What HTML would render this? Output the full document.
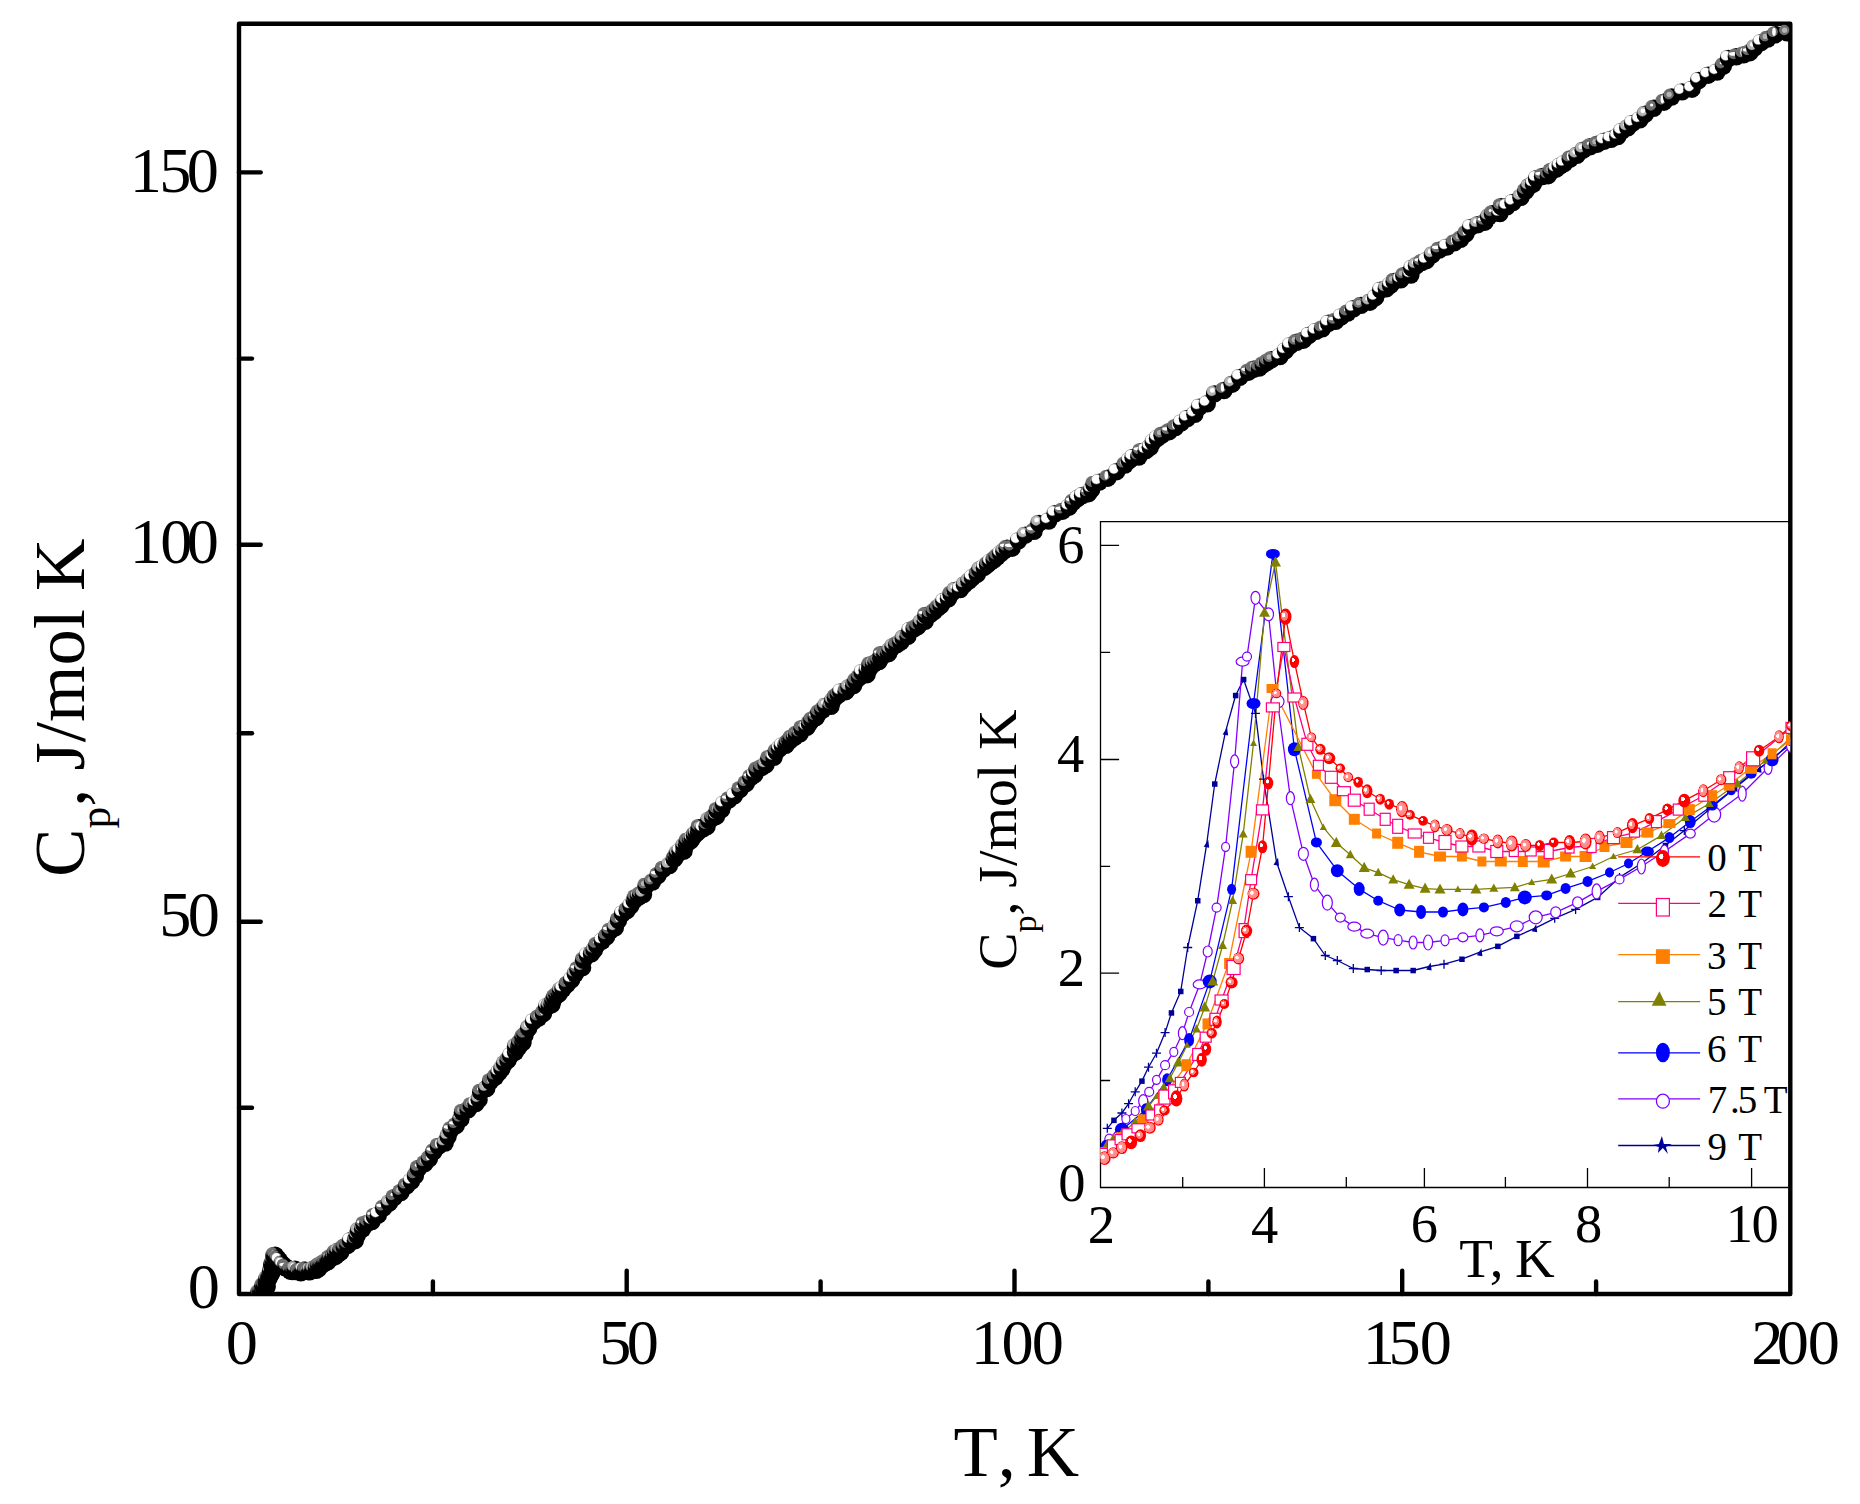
<!DOCTYPE html>
<html><head><meta charset="utf-8"><title>Cp(T)</title>
<style>
html,body{margin:0;padding:0;background:#fff;}
svg{display:block;font-family:"Liberation Serif",serif;}
.tk{stroke:#000;stroke-width:4.4;stroke-linecap:round;}
</style></head><body>
<svg width="1860" height="1504" viewBox="0 0 1860 1504">
<rect width="1860" height="1504" fill="#fff"/>
<rect x="239.00" y="23.70" width="1551.30" height="1270.30" fill="none" stroke="#000" stroke-width="4.40" stroke-linejoin="round"/>
<line x1="239.00" y1="172.35" x2="260.70" y2="172.35" class="tk"/>
<line x1="239.00" y1="544.70" x2="260.70" y2="544.70" class="tk"/>
<line x1="239.00" y1="921.80" x2="260.70" y2="921.80" class="tk"/>
<line x1="239.00" y1="358.60" x2="252.00" y2="358.60" class="tk"/>
<line x1="239.00" y1="733.25" x2="252.00" y2="733.25" class="tk"/>
<line x1="239.00" y1="1107.80" x2="252.00" y2="1107.80" class="tk"/>
<line x1="626.70" y1="1294.00" x2="626.70" y2="1270.80" class="tk"/>
<line x1="1014.50" y1="1294.00" x2="1014.50" y2="1270.80" class="tk"/>
<line x1="1402.20" y1="1294.00" x2="1402.20" y2="1270.80" class="tk"/>
<line x1="432.90" y1="1294.00" x2="432.90" y2="1281.50" class="tk"/>
<line x1="820.60" y1="1294.00" x2="820.60" y2="1281.50" class="tk"/>
<line x1="1208.40" y1="1294.00" x2="1208.40" y2="1281.50" class="tk"/>
<line x1="1596.10" y1="1294.00" x2="1596.10" y2="1281.50" class="tk"/>
<text x="129.63 159.36 186.68" y="192.10" font-size="64.30" fill="#000">150</text>
<text x="129.63 160.28 186.68" y="562.50" font-size="64.30" fill="#000">100</text>
<text x="159.36 187.68" y="936.20" font-size="64.30" fill="#000">50</text>
<text x="187.68" y="1308.10" font-size="64.30" fill="#000">0</text>
<text x="225.68" y="1364.20" font-size="64.30" fill="#000">0</text>
<text x="599.26 626.67" y="1364.20" font-size="64.30" fill="#000">50</text>
<text x="970.63 1001.47 1031.67" y="1364.20" font-size="64.30" fill="#000">100</text>
<text x="1362.63 1388.41 1419.67" y="1364.20" font-size="64.30" fill="#000">150</text>
<text x="1751.29 1776.72 1807.83" y="1364.20" font-size="64.30" fill="#000">200</text>
<text x="953.60 997.64 1016.00 1026.70" y="1476.10" font-size="72.50" fill="#000">T, K</text>
<text transform="translate(83.70 876.90) rotate(-90)" font-size="72.60">C<tspan font-size="43.40" dy="26.70">p</tspan><tspan dy="-26.70">, J/mol K</tspan></text>
<defs><clipPath id="cm"><rect x="239.00" y="23.70" width="1551.30" height="1270.30"/></clipPath>
<g id="ma"><circle cx="0.6" cy="0.6" r="8.7" fill="#000"/><circle cx="-2.3" cy="-2.3" r="4.9" stroke="#8a8a8a" stroke-width="0.5" fill="#fff"/></g>
<g id="mb"><circle cx="0.6" cy="0.6" r="8.7" fill="#000"/><circle cx="-2.3" cy="-2.3" r="4.9" stroke="#8a8a8a" stroke-width="0.5" fill="#b4b4b4"/><circle cx="-1.7" cy="-2.9" r="2.4" fill="#fff"/></g>
<g id="mc"><circle cx="0.6" cy="0.6" r="8.7" fill="#000"/><circle cx="-2.3" cy="-2.3" r="4.9" stroke="#8a8a8a" stroke-width="0.5" fill="#6e6e6e"/><ellipse cx="-2.3" cy="-2.3" rx="4.3" ry="1.8" fill="#fff"/></g>
<g id="md"><circle cx="0.6" cy="0.6" r="8.7" fill="#000"/><circle cx="-2.3" cy="-2.3" r="4.9" stroke="#8a8a8a" stroke-width="0.5" fill="#6e6e6e"/><circle cx="-1.9" cy="-2.1" r="2.6" fill="#b4b4b4"/></g>
<g id="me"><circle cx="0.6" cy="0.6" r="8.7" fill="#000"/><circle cx="-2.3" cy="-2.3" r="4.9" stroke="#8a8a8a" stroke-width="0.5" fill="#6e6e6e"/><ellipse cx="-0.9" cy="-2.3" rx="1.8" ry="4.1" fill="#fff"/></g>
<g id="mf"><circle cx="0.6" cy="0.6" r="8.7" fill="#000"/><circle cx="-2.3" cy="-2.3" r="4.9" stroke="#8a8a8a" stroke-width="0.5" fill="#6e6e6e"/><circle cx="-1.5" cy="-2.7" r="1.6" fill="#fff"/></g>
</defs>
<g clip-path="url(#cm)">
<use href="#me" x="258.0" y="1292.6"/>
<use href="#mb" x="259.6" y="1292.2"/>
<use href="#mc" x="260.4" y="1290.6"/>
<use href="#md" x="261.6" y="1289.7"/>
<use href="#mf" x="263.8" y="1290.2"/>
<use href="#md" x="262.2" y="1285.5"/>
<use href="#mc" x="263.7" y="1284.9"/>
<use href="#mb" x="266.6" y="1286.2"/>
<use href="#md" x="265.4" y="1282.2"/>
<use href="#ma" x="266.3" y="1280.9"/>
<use href="#mb" x="266.3" y="1278.3"/>
<use href="#mb" x="268.2" y="1278.3"/>
<use href="#mc" x="268.4" y="1276.5"/>
<use href="#ma" x="269.0" y="1275.1"/>
<use href="#md" x="270.1" y="1274.4"/>
<use href="#ma" x="270.7" y="1273.1"/>
<use href="#ma" x="270.0" y="1270.1"/>
<use href="#mf" x="271.9" y="1270.4"/>
<use href="#mb" x="272.7" y="1269.4"/>
<use href="#mf" x="271.2" y="1265.3"/>
<use href="#me" x="271.4" y="1263.6"/>
<use href="#mb" x="272.8" y="1263.3"/>
<use href="#mb" x="272.6" y="1260.9"/>
<use href="#ma" x="274.4" y="1261.1"/>
<use href="#mf" x="274.4" y="1258.9"/>
<use href="#md" x="273.3" y="1255.2"/>
<use href="#mb" x="274.8" y="1255.0"/>
<use href="#mf" x="274.5" y="1254.6"/>
<use href="#ma" x="276.9" y="1257.7"/>
<use href="#mf" x="276.9" y="1257.6"/>
<use href="#mb" x="279.3" y="1260.7"/>
<use href="#ma" x="278.7" y="1259.9"/>
<use href="#md" x="281.3" y="1263.3"/>
<use href="#ma" x="282.0" y="1264.1"/>
<use href="#ma" x="282.3" y="1264.4"/>
<use href="#ma" x="284.5" y="1267.3"/>
<use href="#me" x="284.5" y="1266.1"/>
<use href="#mc" x="285.9" y="1266.8"/>
<use href="#mf" x="289.6" y="1270.5"/>
<use href="#mf" x="289.6" y="1269.4"/>
<use href="#me" x="291.9" y="1270.9"/>
<use href="#mc" x="293.2" y="1270.7"/>
<use href="#mb" x="294.8" y="1271.0"/>
<use href="#mb" x="294.5" y="1268.5"/>
<use href="#me" x="297.6" y="1270.8"/>
<use href="#me" x="300.2" y="1272.3"/>
<use href="#mc" x="300.8" y="1271.0"/>
<use href="#ma" x="302.0" y="1270.4"/>
<use href="#ma" x="303.0" y="1269.6"/>
<use href="#mf" x="304.7" y="1269.6"/>
<use href="#mc" x="307.4" y="1271.0"/>
<use href="#mf" x="309.1" y="1271.2"/>
<use href="#ma" x="310.0" y="1269.9"/>
<use href="#me" x="311.6" y="1269.4"/>
<use href="#mb" x="313.0" y="1268.7"/>
<use href="#me" x="315.8" y="1269.8"/>
<use href="#me" x="315.8" y="1267.3"/>
<use href="#me" x="318.3" y="1267.9"/>
<use href="#mf" x="318.3" y="1265.3"/>
<use href="#mb" x="320.1" y="1265.0"/>
<use href="#me" x="321.2" y="1263.8"/>
<use href="#ma" x="322.9" y="1263.5"/>
<use href="#mf" x="323.9" y="1262.0"/>
<use href="#me" x="325.5" y="1261.6"/>
<use href="#mb" x="327.3" y="1261.3"/>
<use href="#ma" x="327.8" y="1259.3"/>
<use href="#mf" x="328.8" y="1257.9"/>
<use href="#mc" x="330.2" y="1257.2"/>
<use href="#mf" x="332.1" y="1257.0"/>
<use href="#mc" x="332.8" y="1255.3"/>
<use href="#mb" x="335.1" y="1255.7"/>
<use href="#me" x="334.6" y="1252.4"/>
<use href="#ma" x="337.4" y="1253.4"/>
<use href="#mb" x="337.4" y="1250.7"/>
<use href="#me" x="340.1" y="1251.7"/>
<use href="#md" x="340.4" y="1249.5"/>
<use href="#md" x="343.7" y="1246.6"/>
<use href="#md" x="347.2" y="1244.8"/>
<use href="#ma" x="349.9" y="1240.2"/>
<use href="#md" x="354.7" y="1240.1"/>
<use href="#ma" x="356.6" y="1235.0"/>
<use href="#mb" x="357.8" y="1230.2"/>
<use href="#mc" x="362.0" y="1228.5"/>
<use href="#mc" x="363.4" y="1224.0"/>
<use href="#mf" x="367.3" y="1222.6"/>
<use href="#ma" x="371.4" y="1220.9"/>
<use href="#mc" x="373.8" y="1215.9"/>
<use href="#ma" x="377.7" y="1214.6"/>
<use href="#mc" x="383.0" y="1207.6"/>
<use href="#mb" x="388.7" y="1202.6"/>
<use href="#mf" x="393.6" y="1197.1"/>
<use href="#md" x="400.3" y="1191.9"/>
<use href="#md" x="405.8" y="1185.6"/>
<use href="#ma" x="410.8" y="1180.8"/>
<use href="#mf" x="414.8" y="1175.3"/>
<use href="#mf" x="417.9" y="1167.9"/>
<use href="#md" x="424.3" y="1163.1"/>
<use href="#me" x="428.8" y="1158.2"/>
<use href="#mc" x="433.2" y="1151.3"/>
<use href="#me" x="437.8" y="1145.8"/>
<use href="#mb" x="444.6" y="1142.5"/>
<use href="#mb" x="447.5" y="1136.0"/>
<use href="#mc" x="450.4" y="1129.2"/>
<use href="#mc" x="455.6" y="1125.1"/>
<use href="#mc" x="460.3" y="1118.6"/>
<use href="#md" x="461.8" y="1111.8"/>
<use href="#mf" x="467.5" y="1109.3"/>
<use href="#md" x="470.7" y="1105.1"/>
<use href="#ma" x="475.4" y="1103.0"/>
<use href="#mb" x="478.5" y="1099.1"/>
<use href="#mf" x="480.1" y="1091.6"/>
<use href="#mb" x="486.1" y="1088.1"/>
<use href="#me" x="489.8" y="1081.1"/>
<use href="#md" x="494.9" y="1076.5"/>
<use href="#ma" x="498.4" y="1072.1"/>
<use href="#mb" x="501.3" y="1068.3"/>
<use href="#mb" x="504.0" y="1063.1"/>
<use href="#md" x="507.4" y="1059.8"/>
<use href="#ma" x="510.1" y="1055.1"/>
<use href="#md" x="514.9" y="1051.5"/>
<use href="#mb" x="514.9" y="1046.1"/>
<use href="#md" x="518.3" y="1046.4"/>
<use href="#me" x="519.0" y="1042.6"/>
<use href="#mc" x="522.4" y="1041.9"/>
<use href="#mf" x="522.4" y="1036.6"/>
<use href="#mf" x="524.4" y="1034.7"/>
<use href="#mb" x="528.1" y="1027.7"/>
<use href="#ma" x="532.9" y="1021.1"/>
<use href="#md" x="538.0" y="1017.4"/>
<use href="#me" x="542.8" y="1013.1"/>
<use href="#ma" x="546.0" y="1006.0"/>
<use href="#mb" x="548.5" y="1005.2"/>
<use href="#me" x="551.4" y="1003.9"/>
<use href="#mf" x="552.4" y="1000.2"/>
<use href="#mf" x="554.0" y="996.8"/>
<use href="#me" x="556.4" y="994.7"/>
<use href="#ma" x="558.7" y="993.2"/>
<use href="#mb" x="559.8" y="990.0"/>
<use href="#ma" x="562.4" y="988.4"/>
<use href="#me" x="566.5" y="983.9"/>
<use href="#ma" x="571.1" y="979.2"/>
<use href="#mb" x="574.7" y="973.5"/>
<use href="#mc" x="577.3" y="969.0"/>
<use href="#mb" x="582.0" y="967.1"/>
<use href="#md" x="582.9" y="959.7"/>
<use href="#ma" x="586.8" y="955.0"/>
<use href="#mf" x="590.9" y="953.3"/>
<use href="#mb" x="593.7" y="949.6"/>
<use href="#mf" x="596.2" y="944.8"/>
<use href="#ma" x="601.7" y="940.4"/>
<use href="#me" x="606.0" y="936.2"/>
<use href="#mc" x="609.6" y="930.6"/>
<use href="#mb" x="614.7" y="927.3"/>
<use href="#me" x="617.9" y="919.9"/>
<use href="#ma" x="622.0" y="913.3"/>
<use href="#md" x="626.5" y="909.9"/>
<use href="#ma" x="630.3" y="905.3"/>
<use href="#mb" x="633.6" y="900.1"/>
<use href="#md" x="635.0" y="897.1"/>
<use href="#ma" x="638.2" y="896.4"/>
<use href="#md" x="639.9" y="894.1"/>
<use href="#mb" x="642.9" y="893.9"/>
<use href="#md" x="645.4" y="885.5"/>
<use href="#md" x="651.9" y="881.5"/>
<use href="#mc" x="657.4" y="874.9"/>
<use href="#mf" x="662.6" y="868.8"/>
<use href="#mb" x="668.9" y="865.0"/>
<use href="#mc" x="673.6" y="858.6"/>
<use href="#me" x="675.3" y="855.9"/>
<use href="#mb" x="676.9" y="852.7"/>
<use href="#ma" x="679.5" y="850.6"/>
<use href="#mf" x="683.4" y="850.6"/>
<use href="#mb" x="683.3" y="845.5"/>
<use href="#me" x="685.8" y="844.0"/>
<use href="#mf" x="686.7" y="840.5"/>
<use href="#mb" x="690.2" y="840.3"/>
<use href="#ma" x="691.7" y="837.9"/>
<use href="#mf" x="693.7" y="834.8"/>
<use href="#ma" x="696.0" y="833.1"/>
<use href="#mb" x="697.8" y="831.2"/>
<use href="#md" x="698.5" y="827.0"/>
<use href="#ma" x="702.6" y="828.2"/>
<use href="#md" x="706.5" y="825.9"/>
<use href="#mb" x="708.2" y="819.8"/>
<use href="#me" x="712.2" y="817.4"/>
<use href="#ma" x="715.9" y="815.8"/>
<use href="#md" x="716.5" y="810.0"/>
<use href="#md" x="721.2" y="809.0"/>
<use href="#ma" x="723.0" y="803.7"/>
<use href="#mc" x="728.5" y="799.3"/>
<use href="#ma" x="733.8" y="795.3"/>
<use href="#mf" x="739.4" y="789.1"/>
<use href="#md" x="745.6" y="783.1"/>
<use href="#mc" x="750.2" y="777.0"/>
<use href="#ma" x="754.1" y="774.3"/>
<use href="#me" x="756.4" y="769.4"/>
<use href="#me" x="761.2" y="767.1"/>
<use href="#mb" x="765.4" y="764.3"/>
<use href="#me" x="768.2" y="758.0"/>
<use href="#ma" x="773.4" y="756.8"/>
<use href="#md" x="775.6" y="751.3"/>
<use href="#ma" x="778.9" y="748.2"/>
<use href="#ma" x="781.7" y="745.3"/>
<use href="#mc" x="785.3" y="744.7"/>
<use href="#mf" x="786.9" y="742.2"/>
<use href="#md" x="789.4" y="740.3"/>
<use href="#mf" x="790.6" y="737.6"/>
<use href="#ma" x="794.1" y="736.7"/>
<use href="#md" x="795.7" y="733.8"/>
<use href="#mc" x="799.5" y="733.3"/>
<use href="#mf" x="801.3" y="728.1"/>
<use href="#ma" x="806.4" y="726.8"/>
<use href="#me" x="808.8" y="723.0"/>
<use href="#me" x="811.3" y="719.6"/>
<use href="#mc" x="815.6" y="717.1"/>
<use href="#md" x="818.2" y="712.4"/>
<use href="#me" x="822.1" y="709.5"/>
<use href="#mb" x="825.1" y="705.5"/>
<use href="#mc" x="830.4" y="705.7"/>
<use href="#mb" x="832.1" y="700.4"/>
<use href="#md" x="834.7" y="696.8"/>
<use href="#me" x="837.8" y="694.4"/>
<use href="#ma" x="840.3" y="691.3"/>
<use href="#mf" x="845.4" y="691.1"/>
<use href="#mb" x="848.4" y="687.2"/>
<use href="#md" x="853.0" y="684.9"/>
<use href="#mf" x="855.2" y="680.5"/>
<use href="#mf" x="858.9" y="676.9"/>
<use href="#ma" x="861.6" y="672.0"/>
<use href="#ma" x="866.5" y="674.1"/>
<use href="#ma" x="866.6" y="669.6"/>
<use href="#md" x="869.0" y="668.2"/>
<use href="#me" x="869.4" y="664.3"/>
<use href="#mb" x="873.0" y="663.8"/>
<use href="#mf" x="875.3" y="662.0"/>
<use href="#mb" x="878.4" y="660.9"/>
<use href="#ma" x="880.1" y="657.7"/>
<use href="#mc" x="880.6" y="654.0"/>
<use href="#md" x="884.2" y="653.6"/>
<use href="#mc" x="888.0" y="653.1"/>
<use href="#mb" x="889.5" y="649.7"/>
<use href="#mb" x="892.4" y="646.1"/>
<use href="#mf" x="896.1" y="644.2"/>
<use href="#mb" x="900.2" y="641.6"/>
<use href="#mb" x="902.6" y="637.7"/>
<use href="#mf" x="907.3" y="635.8"/>
<use href="#ma" x="909.3" y="629.9"/>
<use href="#me" x="913.5" y="628.3"/>
<use href="#me" x="917.3" y="626.1"/>
<use href="#mb" x="920.7" y="622.1"/>
<use href="#ma" x="924.6" y="620.7"/>
<use href="#mc" x="925.2" y="614.8"/>
<use href="#mf" x="929.7" y="614.1"/>
<use href="#mf" x="933.7" y="611.0"/>
<use href="#mf" x="937.2" y="607.6"/>
<use href="#mb" x="940.4" y="605.1"/>
<use href="#ma" x="943.2" y="600.7"/>
<use href="#ma" x="947.8" y="598.2"/>
<use href="#md" x="950.4" y="593.6"/>
<use href="#mb" x="954.5" y="589.8"/>
<use href="#ma" x="959.7" y="588.9"/>
<use href="#mb" x="963.8" y="584.3"/>
<use href="#mb" x="968.3" y="580.6"/>
<use href="#ma" x="971.8" y="577.2"/>
<use href="#md" x="976.6" y="573.8"/>
<use href="#mb" x="979.3" y="569.2"/>
<use href="#ma" x="983.7" y="566.8"/>
<use href="#me" x="986.9" y="564.2"/>
<use href="#ma" x="990.1" y="561.5"/>
<use href="#md" x="993.5" y="559.2"/>
<use href="#mf" x="996.6" y="556.4"/>
<use href="#ma" x="1000.1" y="553.3"/>
<use href="#mb" x="1003.3" y="550.6"/>
<use href="#mc" x="1006.5" y="547.6"/>
<use href="#mc" x="1011.5" y="547.6"/>
<use href="#ma" x="1017.9" y="540.3"/>
<use href="#mb" x="1024.8" y="534.5"/>
<use href="#mc" x="1033.5" y="530.7"/>
<use href="#mb" x="1038.3" y="522.8"/>
<use href="#ma" x="1048.1" y="520.4"/>
<use href="#ma" x="1054.6" y="513.2"/>
<use href="#mc" x="1062.0" y="510.6"/>
<use href="#ma" x="1068.5" y="506.6"/>
<use href="#mc" x="1072.5" y="501.7"/>
<use href="#ma" x="1077.1" y="497.9"/>
<use href="#ma" x="1081.9" y="494.9"/>
<use href="#mc" x="1088.0" y="493.1"/>
<use href="#ma" x="1091.1" y="489.0"/>
<use href="#me" x="1093.3" y="483.8"/>
<use href="#ma" x="1098.7" y="481.5"/>
<use href="#me" x="1107.2" y="477.6"/>
<use href="#ma" x="1116.1" y="471.1"/>
<use href="#md" x="1124.4" y="464.5"/>
<use href="#ma" x="1128.8" y="460.1"/>
<use href="#ma" x="1132.4" y="456.9"/>
<use href="#md" x="1138.2" y="456.4"/>
<use href="#mc" x="1140.2" y="451.1"/>
<use href="#ma" x="1145.5" y="450.1"/>
<use href="#ma" x="1149.7" y="446.7"/>
<use href="#ma" x="1152.6" y="441.5"/>
<use href="#ma" x="1156.9" y="437.8"/>
<use href="#md" x="1161.4" y="434.6"/>
<use href="#mc" x="1168.7" y="431.1"/>
<use href="#me" x="1174.9" y="427.0"/>
<use href="#ma" x="1180.8" y="422.3"/>
<use href="#ma" x="1186.8" y="417.9"/>
<use href="#ma" x="1194.3" y="413.7"/>
<use href="#ma" x="1198.8" y="406.5"/>
<use href="#ma" x="1206.7" y="403.2"/>
<use href="#mb" x="1214.0" y="393.3"/>
<use href="#me" x="1223.4" y="389.9"/>
<use href="#mb" x="1231.6" y="383.6"/>
<use href="#ma" x="1239.2" y="376.8"/>
<use href="#mc" x="1247.9" y="371.6"/>
<use href="#me" x="1252.9" y="368.7"/>
<use href="#md" x="1258.6" y="367.4"/>
<use href="#md" x="1262.5" y="364.3"/>
<use href="#md" x="1266.9" y="361.6"/>
<use href="#md" x="1271.1" y="359.0"/>
<use href="#ma" x="1279.4" y="355.9"/>
<use href="#ma" x="1284.9" y="350.3"/>
<use href="#ma" x="1289.9" y="345.0"/>
<use href="#md" x="1296.1" y="341.7"/>
<use href="#me" x="1302.8" y="339.6"/>
<use href="#ma" x="1308.4" y="334.7"/>
<use href="#ma" x="1315.5" y="330.8"/>
<use href="#me" x="1321.8" y="328.3"/>
<use href="#ma" x="1328.0" y="322.7"/>
<use href="#mc" x="1335.0" y="320.8"/>
<use href="#ma" x="1340.7" y="316.3"/>
<use href="#mf" x="1347.1" y="312.4"/>
<use href="#ma" x="1352.9" y="308.2"/>
<use href="#md" x="1360.4" y="304.8"/>
<use href="#mb" x="1369.3" y="301.6"/>
<use href="#ma" x="1375.0" y="297.1"/>
<use href="#ma" x="1380.1" y="289.6"/>
<use href="#mb" x="1385.7" y="288.2"/>
<use href="#ma" x="1389.9" y="284.7"/>
<use href="#md" x="1393.5" y="280.8"/>
<use href="#ma" x="1400.2" y="279.3"/>
<use href="#md" x="1403.2" y="275.2"/>
<use href="#ma" x="1410.3" y="274.4"/>
<use href="#ma" x="1411.3" y="267.7"/>
<use href="#mb" x="1415.8" y="265.2"/>
<use href="#mc" x="1421.1" y="262.0"/>
<use href="#ma" x="1425.9" y="260.1"/>
<use href="#mb" x="1431.8" y="254.3"/>
<use href="#mc" x="1438.6" y="249.5"/>
<use href="#ma" x="1446.2" y="246.5"/>
<use href="#me" x="1453.7" y="242.3"/>
<use href="#md" x="1460.0" y="238.7"/>
<use href="#me" x="1465.4" y="233.2"/>
<use href="#ma" x="1470.0" y="226.8"/>
<use href="#mb" x="1477.3" y="224.1"/>
<use href="#mc" x="1484.3" y="221.6"/>
<use href="#mb" x="1488.0" y="216.5"/>
<use href="#mf" x="1491.8" y="213.2"/>
<use href="#ma" x="1499.3" y="213.0"/>
<use href="#md" x="1500.5" y="206.1"/>
<use href="#ma" x="1506.4" y="206.2"/>
<use href="#ma" x="1512.4" y="201.9"/>
<use href="#mb" x="1520.3" y="196.8"/>
<use href="#mf" x="1525.0" y="190.8"/>
<use href="#mb" x="1528.4" y="186.2"/>
<use href="#ma" x="1532.8" y="183.4"/>
<use href="#ma" x="1535.9" y="178.2"/>
<use href="#mc" x="1541.9" y="175.9"/>
<use href="#me" x="1547.6" y="175.1"/>
<use href="#md" x="1550.6" y="170.9"/>
<use href="#ma" x="1555.7" y="168.5"/>
<use href="#ma" x="1559.6" y="165.4"/>
<use href="#ma" x="1563.8" y="163.0"/>
<use href="#me" x="1569.6" y="158.4"/>
<use href="#mb" x="1576.4" y="154.7"/>
<use href="#mb" x="1582.6" y="149.6"/>
<use href="#mf" x="1589.9" y="146.1"/>
<use href="#md" x="1596.8" y="143.6"/>
<use href="#ma" x="1603.7" y="140.6"/>
<use href="#ma" x="1610.5" y="138.7"/>
<use href="#ma" x="1617.2" y="135.9"/>
<use href="#ma" x="1621.2" y="130.8"/>
<use href="#mb" x="1627.2" y="127.3"/>
<use href="#ma" x="1631.9" y="122.8"/>
<use href="#ma" x="1639.3" y="119.3"/>
<use href="#mb" x="1644.6" y="113.7"/>
<use href="#mf" x="1653.1" y="107.7"/>
<use href="#me" x="1663.3" y="101.6"/>
<use href="#md" x="1671.0" y="96.4"/>
<use href="#ma" x="1681.5" y="91.3"/>
<use href="#ma" x="1691.4" y="88.6"/>
<use href="#ma" x="1698.1" y="79.9"/>
<use href="#ma" x="1707.6" y="74.6"/>
<use href="#ma" x="1716.4" y="71.4"/>
<use href="#mf" x="1722.8" y="65.4"/>
<use href="#ma" x="1727.9" y="57.9"/>
<use href="#mc" x="1735.7" y="56.2"/>
<use href="#me" x="1743.0" y="54.3"/>
<use href="#mc" x="1749.4" y="52.1"/>
<use href="#mb" x="1754.1" y="47.3"/>
<use href="#ma" x="1760.5" y="42.0"/>
<use href="#md" x="1767.1" y="38.5"/>
<use href="#me" x="1774.9" y="34.1"/>
<use href="#md" x="1786.5" y="32.3"/>
</g>
<g fill="none" stroke="#000" stroke-width="1.3">
<path d="M1790.30 521.60 H1100.50 V1187.50 H1790.30"/>
<path d="M1264.40 1187.50 V1168.10M1424.40 1187.50 V1168.10M1587.50 1187.50 V1168.10M1751.60 1187.50 V1168.10M1182.70 1187.50 V1176.90M1346.30 1187.50 V1176.90M1505.40 1187.50 V1176.90M1669.20 1187.50 V1176.90M1100.50 973.20 H1119.10M1100.50 759.50 H1119.10M1100.50 545.40 H1119.10M1100.50 1080.50 H1110.10M1100.50 866.30 H1110.10M1100.50 652.40 H1110.10"/>
</g>
<text x="1057.37" y="562.50" font-size="54.50" fill="#000">6</text>
<text x="1057.12" y="772.20" font-size="54.50" fill="#000">4</text>
<text x="1057.68" y="986.00" font-size="54.50" fill="#000">2</text>
<text x="1058.22" y="1201.10" font-size="54.50" fill="#000">0</text>
<text x="1087.73" y="1242.90" font-size="54.50" fill="#000">2</text>
<text x="1251.02" y="1242.90" font-size="54.50" fill="#000">4</text>
<text x="1410.77" y="1242.40" font-size="54.50" fill="#000">6</text>
<text x="1575.08" y="1242.40" font-size="54.50" fill="#000">8</text>
<text x="1725.77 1751.42" y="1242.40" font-size="54.50" fill="#000">10</text>
<text x="1459.31 1489.81 1504.00 1515.08" y="1276.50" font-size="55.00" fill="#000">T, K</text>
<text transform="translate(1016.00 969.80) rotate(-90)" font-size="55.80">C<tspan font-size="34.00" dy="20.40">p</tspan><tspan dy="-20.40">, J/mol K</tspan></text>
<defs><clipPath id="ci"><rect x="1100.50" y="521.60" width="689.80" height="665.90"/></clipPath>
<radialGradient id="rs" cx="0.5" cy="0.5" r="0.5" fx="0.28" fy="0.36"><stop offset="0" stop-color="#fff"/><stop offset="0.26" stop-color="#fff"/><stop offset="0.30" stop-color="#ff8a8a"/><stop offset="0.58" stop-color="#ff7a7a"/><stop offset="0.62" stop-color="#f00"/><stop offset="1" stop-color="#f00"/></radialGradient>
<radialGradient id="rp" cx="0.5" cy="0.5" r="0.5" fx="0.30" fy="0.40"><stop offset="0" stop-color="#fff"/><stop offset="0.28" stop-color="#fff"/><stop offset="0.32" stop-color="#ff9a9a"/><stop offset="0.82" stop-color="#ff8080"/><stop offset="0.86" stop-color="#f00"/><stop offset="1" stop-color="#f00"/></radialGradient>
<radialGradient id="rl" cx="0.5" cy="0.5" r="0.5" fx="0.32" fy="0.32"><stop offset="0" stop-color="#fff"/><stop offset="0.30" stop-color="#fff"/><stop offset="0.34" stop-color="#f00"/><stop offset="1" stop-color="#f00"/></radialGradient>
</defs>
<g clip-path="url(#ci)">
<polyline fill="none" stroke="#000099" stroke-width="1.3" stroke-linejoin="round" points="1107.3,1128.3 1113.9,1120.3 1121.9,1113.0 1128.6,1103.7 1135.2,1091.8 1141.9,1081.1 1148.5,1067.2 1156.5,1053.2 1165.1,1032.6 1171.4,1012.9 1180.7,991.4 1187.7,947.5 1197.7,900.7 1206.7,843.8 1214.7,784.0 1225.6,731.4 1235.6,695.5 1243.6,679.5 1255.5,713.4 1263.5,779.2 1276.5,861.8 1288.4,896.7 1299.4,927.6 1313.4,938.6 1325.3,955.5 1337.3,960.5 1353.3,968.5 1367.2,969.5 1381.2,970.5 1396.1,970.5 1413.1,970.5 1429.1,966.5 1444.0,964.2 1461.9,959.2 1479.9,952.2 1497.8,946.3 1516.8,936.3 1534.7,928.3 1554.7,918.3 1575.6,909.4 1597.6,897.4 1619.5,877.4 1641.4,863.5 1665.4,845.5 1684.3,830.6 1709.2,809.6 1735.2,787.7 1759.1,768.8 1791.0,743.8"/>
<polyline fill="none" stroke="#8000ff" stroke-width="1.3" stroke-linejoin="round" points="1109.3,1139.6 1125.9,1119.0 1135.2,1111.0 1143.2,1101.1 1149.2,1091.8 1156.5,1079.8 1165.1,1065.2 1173.8,1051.9 1182.4,1033.2 1189.1,1012.0 1199.7,984.4 1207.7,951.5 1216.6,907.6 1225.6,846.8 1234.6,761.3 1242.6,661.6 1247.0,656.6 1255.5,597.8 1268.5,614.3 1277.5,701.5 1290.4,798.2 1303.4,853.8 1314.4,884.7 1327.3,902.7 1340.3,917.6 1354.3,926.6 1367.2,933.6 1383.2,937.6 1398.1,940.2 1413.1,942.5 1428.1,942.5 1445.0,940.3 1462.9,937.3 1479.9,935.3 1496.8,931.3 1516.8,926.3 1535.7,917.3 1555.7,912.3 1577.6,902.4 1596.6,891.4 1619.5,879.4 1641.4,866.5 1664.4,851.5 1690.3,833.6 1714.2,814.6 1742.2,793.7 1768.1,767.8 1791.0,745.8"/>
<polyline fill="none" stroke="#0000ff" stroke-width="1.3" stroke-linejoin="round" points="1106.0,1146.3 1121.9,1129.7 1145.9,1109.7 1167.1,1079.8 1189.1,1039.9 1209.7,981.4 1231.6,889.3 1253.5,703.5 1272.9,553.9 1294.4,749.3 1316.4,842.4 1337.3,870.7 1359.2,889.1 1378.2,900.7 1399.7,910.0 1421.1,912.0 1443.0,912.0 1462.9,909.4 1483.9,907.4 1505.8,902.4 1524.8,897.4 1546.7,895.4 1565.6,888.4 1587.6,881.4 1609.5,872.5 1628.5,863.5 1647.4,851.5 1669.4,837.6 1690.3,821.6 1712.2,805.6 1731.2,790.7 1751.1,773.7 1772.1,759.8 1791.0,741.8"/>
<polyline fill="none" stroke="#808000" stroke-width="1.3" stroke-linejoin="round" points="1107.3,1144.9 1113.3,1139.6 1121.9,1133.0 1135.2,1122.3 1148.5,1106.4 1156.5,1096.4 1163.8,1087.1 1169.8,1078.5 1178.4,1062.5 1187.1,1045.2 1196.4,1029.3 1204.7,1007.4 1212.7,981.4 1222.6,945.5 1232.6,900.7 1243.2,834.2 1253.5,743.3 1264.5,612.7 1275.5,562.3 1298.4,747.3 1310.4,799.2 1323.3,827.3 1336.3,842.8 1350.3,854.8 1364.2,867.8 1378.2,872.7 1393.2,879.7 1409.1,884.7 1425.1,888.7 1440.0,889.4 1457.9,889.4 1475.9,889.4 1493.8,888.4 1514.8,887.4 1531.7,882.4 1551.7,879.4 1570.6,873.5 1592.6,866.5 1613.5,856.5 1637.4,849.5 1661.4,835.6 1685.3,817.6 1709.2,803.7 1737.2,783.7 1765.1,760.8 1791.0,737.8"/>
<polyline fill="none" stroke="#ff8000" stroke-width="1.3" stroke-linejoin="round" points="1104.6,1152.9 1120.6,1137.6 1143.2,1120.3 1163.8,1096.4 1186.4,1065.2 1207.0,1023.9 1228.6,963.5 1251.1,851.8 1272.5,688.5 1316.4,774.3 1335.3,800.2 1354.3,819.3 1376.6,833.5 1397.7,842.8 1419.1,851.8 1440.0,856.5 1461.9,856.5 1481.9,861.5 1500.8,861.5 1522.8,861.5 1543.7,861.5 1565.6,856.5 1585.6,856.5 1604.5,846.5 1626.5,842.5 1647.4,832.6 1669.4,823.6 1689.3,809.6 1712.2,795.7 1729.2,784.7 1751.1,767.8 1772.1,753.8 1791.0,739.8"/>
<polyline fill="none" stroke="#ff0080" stroke-width="1.3" stroke-linejoin="round" points="1102.6,1152.9 1111.9,1146.9 1120.6,1139.6 1128.6,1134.3 1138.5,1128.3 1150.5,1115.0 1159.1,1110.4 1164.5,1097.1 1173.1,1091.8 1180.4,1082.4 1197.7,1054.5 1205.7,1037.2 1215.0,1019.3 1221.6,1000.0 1233.6,967.5 1243.6,930.6 1251.1,879.7 1262.5,809.9 1272.9,707.4 1283.9,647.0 1294.4,697.5 1307.4,744.3 1318.4,765.3 1331.3,777.3 1343.9,791.2 1354.3,800.2 1369.2,809.2 1385.2,819.3 1397.7,826.3 1414.7,833.5 1428.5,837.8 1445.0,842.5 1461.9,846.5 1478.9,846.5 1496.8,851.5 1513.8,851.5 1530.7,851.5 1548.7,851.5 1569.6,847.5 1591.6,845.5 1613.5,837.6 1634.5,832.6 1656.4,821.6 1678.3,809.6 1703.3,795.7 1729.2,777.7 1753.1,758.8 1791.0,727.9"/>
<polyline fill="none" stroke="#ff0000" stroke-width="1.3" stroke-linejoin="round" points="1104.6,1158.2 1113.3,1152.9 1121.9,1147.6 1131.2,1142.3 1140.5,1135.6 1149.8,1127.7 1158.5,1119.7 1164.5,1110.4 1176.4,1098.4 1184.4,1085.1 1193.7,1072.5 1201.7,1059.8 1206.4,1049.2 1211.7,1033.2 1217.0,1021.9 1224.3,1004.0 1231.6,982.4 1238.6,958.5 1246.6,931.0 1253.5,893.7 1262.5,846.8 1268.5,783.0 1276.5,693.5 1285.5,616.7 1294.4,661.6 1303.4,703.1 1311.4,737.4 1320.4,749.3 1329.3,758.3 1340.3,768.3 1348.3,777.3 1358.2,782.2 1367.2,791.2 1380.2,799.2 1389.2,804.2 1402.1,809.2 1410.1,814.9 1423.1,820.9 1435.0,825.9 1447.0,829.9 1459.9,833.6 1471.9,837.6 1483.9,838.6 1497.8,841.5 1511.8,843.5 1525.8,845.5 1539.7,845.5 1553.7,842.5 1569.6,842.5 1585.6,841.5 1599.6,837.6 1617.5,832.6 1632.5,825.6 1649.4,818.6 1667.4,809.6 1684.3,800.7 1703.3,790.7 1721.2,779.7 1739.2,767.8 1759.1,750.8 1779.1,736.8 1791.0,725.9"/>
<path d="M1102.8 1128.3 h9 M1107.3 1123.8 v9" stroke="#000099" stroke-width="1.3" fill="none"/>
<rect x="1111.2" y="1117.6" width="5.5" height="5.5" fill="#000099"/>
<path d="M1117.4 1113.0 h9 M1121.9 1108.5 v9" stroke="#000099" stroke-width="1.3" fill="none"/>
<path d="M1124.1 1103.7 h9 M1128.6 1099.2 v9" stroke="#000099" stroke-width="1.3" fill="none"/>
<path d="M1130.7 1091.8 h9 M1135.2 1087.3 v9" stroke="#000099" stroke-width="1.3" fill="none"/>
<rect x="1139.2" y="1078.4" width="5.5" height="5.5" fill="#000099"/>
<path d="M1144.0 1067.2 h9 M1148.5 1062.7 v9" stroke="#000099" stroke-width="1.3" fill="none"/>
<path d="M1152.0 1053.2 h9 M1156.5 1048.7 v9" stroke="#000099" stroke-width="1.3" fill="none"/>
<path d="M1160.6 1032.6 h9 M1165.1 1028.1 v9" stroke="#000099" stroke-width="1.3" fill="none"/>
<rect x="1168.7" y="1010.2" width="5.5" height="5.5" fill="#000099"/>
<rect x="1178.0" y="988.7" width="5.5" height="5.5" fill="#000099"/>
<path d="M1183.2 947.5 h9 M1187.7 943.0 v9" stroke="#000099" stroke-width="1.3" fill="none"/>
<rect x="1195.0" y="898.0" width="5.5" height="5.5" fill="#000099"/>
<path d="M1203.7 846.8 l4.5 -7 l1 8 z" fill="#000099"/>
<rect x="1212.0" y="781.3" width="5.5" height="5.5" fill="#000099"/>
<path d="M1222.6 734.4 l4.5 -7 l1 8 z" fill="#000099"/>
<rect x="1232.9" y="692.8" width="5.5" height="5.5" fill="#000099"/>
<rect x="1240.9" y="676.8" width="5.5" height="5.5" fill="#000099"/>
<path d="M1251.0 713.4 h9 M1255.5 708.9 v9" stroke="#000099" stroke-width="1.3" fill="none"/>
<path d="M1259.0 779.2 h9 M1263.5 774.7 v9" stroke="#000099" stroke-width="1.3" fill="none"/>
<path d="M1273.5 864.8 l4.5 -7 l1 8 z" fill="#000099"/>
<path d="M1283.9 896.7 h9 M1288.4 892.2 v9" stroke="#000099" stroke-width="1.3" fill="none"/>
<path d="M1294.9 927.6 h9 M1299.4 923.1 v9" stroke="#000099" stroke-width="1.3" fill="none"/>
<rect x="1310.7" y="935.9" width="5.5" height="5.5" fill="#000099"/>
<path d="M1320.8 955.5 h9 M1325.3 951.0 v9" stroke="#000099" stroke-width="1.3" fill="none"/>
<path d="M1332.8 960.5 h9 M1337.3 956.0 v9" stroke="#000099" stroke-width="1.3" fill="none"/>
<path d="M1348.8 968.5 h9 M1353.3 964.0 v9" stroke="#000099" stroke-width="1.3" fill="none"/>
<rect x="1364.5" y="966.8" width="5.5" height="5.5" fill="#000099"/>
<path d="M1376.7 970.5 h9 M1381.2 966.0 v9" stroke="#000099" stroke-width="1.3" fill="none"/>
<rect x="1393.4" y="967.8" width="5.5" height="5.5" fill="#000099"/>
<rect x="1410.4" y="967.8" width="5.5" height="5.5" fill="#000099"/>
<path d="M1426.1 969.5 l4.5 -7 l1 8 z" fill="#000099"/>
<path d="M1439.5 964.2 h9 M1444.0 959.7 v9" stroke="#000099" stroke-width="1.3" fill="none"/>
<rect x="1459.2" y="956.5" width="5.5" height="5.5" fill="#000099"/>
<path d="M1476.9 955.2 l4.5 -7 l1 8 z" fill="#000099"/>
<rect x="1495.1" y="943.6" width="5.5" height="5.5" fill="#000099"/>
<rect x="1514.1" y="933.6" width="5.5" height="5.5" fill="#000099"/>
<path d="M1531.7 931.3 l4.5 -7 l1 8 z" fill="#000099"/>
<path d="M1550.2 918.3 h9 M1554.7 913.8 v9" stroke="#000099" stroke-width="1.3" fill="none"/>
<path d="M1571.1 909.4 h9 M1575.6 904.9 v9" stroke="#000099" stroke-width="1.3" fill="none"/>
<rect x="1594.9" y="894.7" width="5.5" height="5.5" fill="#000099"/>
<path d="M1615.0 877.4 h9 M1619.5 872.9 v9" stroke="#000099" stroke-width="1.3" fill="none"/>
<path d="M1638.4 866.5 l4.5 -7 l1 8 z" fill="#000099"/>
<rect x="1662.7" y="842.8" width="5.5" height="5.5" fill="#000099"/>
<path d="M1679.8 830.6 h9 M1684.3 826.1 v9" stroke="#000099" stroke-width="1.3" fill="none"/>
<rect x="1706.5" y="806.9" width="5.5" height="5.5" fill="#000099"/>
<path d="M1732.2 790.7 l4.5 -7 l1 8 z" fill="#000099"/>
<path d="M1756.1 771.8 l4.5 -7 l1 8 z" fill="#000099"/>
<path d="M1786.5 743.8 h9 M1791.0 739.3 v9" stroke="#000099" stroke-width="1.3" fill="none"/>
<ellipse cx="1109.3" cy="1139.6" rx="4.5" ry="5.5" fill="#fff" stroke="#8000ff" stroke-width="1.2"/>
<ellipse cx="1125.9" cy="1119.0" rx="4.0" ry="4.5" fill="#fff" stroke="#8000ff" stroke-width="1.2"/>
<ellipse cx="1135.2" cy="1111.0" rx="4.0" ry="4.5" fill="#fff" stroke="#8000ff" stroke-width="1.2"/>
<ellipse cx="1143.2" cy="1101.1" rx="4.5" ry="6.5" fill="#fff" stroke="#8000ff" stroke-width="1.2"/>
<ellipse cx="1149.2" cy="1091.8" rx="4.5" ry="4.5" fill="#fff" stroke="#8000ff" stroke-width="1.2"/>
<ellipse cx="1156.5" cy="1079.8" rx="4.0" ry="4.5" fill="#fff" stroke="#8000ff" stroke-width="1.2"/>
<ellipse cx="1165.1" cy="1065.2" rx="4.5" ry="4.5" fill="#fff" stroke="#8000ff" stroke-width="1.2"/>
<ellipse cx="1173.8" cy="1051.9" rx="4.0" ry="4.5" fill="#fff" stroke="#8000ff" stroke-width="1.2"/>
<ellipse cx="1182.4" cy="1033.2" rx="4.0" ry="6.5" fill="#fff" stroke="#8000ff" stroke-width="1.2"/>
<ellipse cx="1189.1" cy="1012.0" rx="4.5" ry="4.5" fill="#fff" stroke="#8000ff" stroke-width="1.2"/>
<ellipse cx="1199.7" cy="984.4" rx="6.5" ry="4.5" fill="#fff" stroke="#8000ff" stroke-width="1.2"/>
<ellipse cx="1207.7" cy="951.5" rx="4.5" ry="5.5" fill="#fff" stroke="#8000ff" stroke-width="1.2"/>
<ellipse cx="1216.6" cy="907.6" rx="4.5" ry="4.5" fill="#fff" stroke="#8000ff" stroke-width="1.2"/>
<ellipse cx="1225.6" cy="846.8" rx="4.0" ry="4.5" fill="#fff" stroke="#8000ff" stroke-width="1.2"/>
<ellipse cx="1234.6" cy="761.3" rx="4.0" ry="6.5" fill="#fff" stroke="#8000ff" stroke-width="1.2"/>
<ellipse cx="1242.6" cy="661.6" rx="6.5" ry="4.5" fill="#fff" stroke="#8000ff" stroke-width="1.2"/>
<ellipse cx="1247.0" cy="656.6" rx="4.5" ry="4.5" fill="#fff" stroke="#8000ff" stroke-width="1.2"/>
<ellipse cx="1255.5" cy="597.8" rx="4.5" ry="6.5" fill="#fff" stroke="#8000ff" stroke-width="1.2"/>
<ellipse cx="1268.5" cy="614.3" rx="5.0" ry="6.5" fill="#fff" stroke="#8000ff" stroke-width="1.2"/>
<ellipse cx="1277.5" cy="701.5" rx="6.5" ry="6.5" fill="#fff" stroke="#8000ff" stroke-width="1.2"/>
<ellipse cx="1290.4" cy="798.2" rx="4.0" ry="6.5" fill="#fff" stroke="#8000ff" stroke-width="1.2"/>
<ellipse cx="1303.4" cy="853.8" rx="5.0" ry="6.5" fill="#fff" stroke="#8000ff" stroke-width="1.2"/>
<ellipse cx="1314.4" cy="884.7" rx="4.0" ry="6.5" fill="#fff" stroke="#8000ff" stroke-width="1.2"/>
<ellipse cx="1327.3" cy="902.7" rx="5.0" ry="7.5" fill="#fff" stroke="#8000ff" stroke-width="1.2"/>
<ellipse cx="1340.3" cy="917.6" rx="5.0" ry="4.5" fill="#fff" stroke="#8000ff" stroke-width="1.2"/>
<ellipse cx="1354.3" cy="926.6" rx="6.5" ry="4.5" fill="#fff" stroke="#8000ff" stroke-width="1.2"/>
<ellipse cx="1367.2" cy="933.6" rx="6.5" ry="4.5" fill="#fff" stroke="#8000ff" stroke-width="1.2"/>
<ellipse cx="1383.2" cy="937.6" rx="5.0" ry="7.5" fill="#fff" stroke="#8000ff" stroke-width="1.2"/>
<ellipse cx="1398.1" cy="940.2" rx="4.0" ry="5.5" fill="#fff" stroke="#8000ff" stroke-width="1.2"/>
<ellipse cx="1413.1" cy="942.5" rx="4.0" ry="6.5" fill="#fff" stroke="#8000ff" stroke-width="1.2"/>
<ellipse cx="1428.1" cy="942.5" rx="4.5" ry="7.5" fill="#fff" stroke="#8000ff" stroke-width="1.2"/>
<ellipse cx="1445.0" cy="940.3" rx="4.0" ry="5.5" fill="#fff" stroke="#8000ff" stroke-width="1.2"/>
<ellipse cx="1462.9" cy="937.3" rx="5.0" ry="4.5" fill="#fff" stroke="#8000ff" stroke-width="1.2"/>
<ellipse cx="1479.9" cy="935.3" rx="4.0" ry="6.5" fill="#fff" stroke="#8000ff" stroke-width="1.2"/>
<ellipse cx="1496.8" cy="931.3" rx="6.5" ry="4.5" fill="#fff" stroke="#8000ff" stroke-width="1.2"/>
<ellipse cx="1516.8" cy="926.3" rx="6.5" ry="5.5" fill="#fff" stroke="#8000ff" stroke-width="1.2"/>
<ellipse cx="1535.7" cy="917.3" rx="6.5" ry="6.5" fill="#fff" stroke="#8000ff" stroke-width="1.2"/>
<ellipse cx="1555.7" cy="912.3" rx="5.0" ry="5.5" fill="#fff" stroke="#8000ff" stroke-width="1.2"/>
<ellipse cx="1577.6" cy="902.4" rx="5.0" ry="5.5" fill="#fff" stroke="#8000ff" stroke-width="1.2"/>
<ellipse cx="1596.6" cy="891.4" rx="4.5" ry="7.5" fill="#fff" stroke="#8000ff" stroke-width="1.2"/>
<ellipse cx="1619.5" cy="879.4" rx="4.5" ry="4.5" fill="#fff" stroke="#8000ff" stroke-width="1.2"/>
<ellipse cx="1641.4" cy="866.5" rx="4.0" ry="7.5" fill="#fff" stroke="#8000ff" stroke-width="1.2"/>
<ellipse cx="1664.4" cy="851.5" rx="4.0" ry="6.5" fill="#fff" stroke="#8000ff" stroke-width="1.2"/>
<ellipse cx="1690.3" cy="833.6" rx="5.0" ry="4.5" fill="#fff" stroke="#8000ff" stroke-width="1.2"/>
<ellipse cx="1714.2" cy="814.6" rx="6.5" ry="7.5" fill="#fff" stroke="#8000ff" stroke-width="1.2"/>
<ellipse cx="1742.2" cy="793.7" rx="4.0" ry="7.5" fill="#fff" stroke="#8000ff" stroke-width="1.2"/>
<ellipse cx="1768.1" cy="767.8" rx="4.0" ry="6.5" fill="#fff" stroke="#8000ff" stroke-width="1.2"/>
<ellipse cx="1791.0" cy="745.8" rx="4.5" ry="6.5" fill="#fff" stroke="#8000ff" stroke-width="1.2"/>
<ellipse cx="1106.0" cy="1146.3" rx="5.5" ry="6.5" fill="#0000ff"/>
<ellipse cx="1121.9" cy="1129.7" rx="7.0" ry="7.0" fill="#0000ff"/>
<ellipse cx="1145.9" cy="1109.7" rx="5.0" ry="6.5" fill="#0000ff"/>
<ellipse cx="1167.1" cy="1079.8" rx="5.0" ry="6.5" fill="#0000ff"/>
<ellipse cx="1189.1" cy="1039.9" rx="5.0" ry="7.0" fill="#0000ff"/>
<ellipse cx="1209.7" cy="981.4" rx="7.0" ry="7.0" fill="#0000ff"/>
<ellipse cx="1231.6" cy="889.3" rx="4.5" ry="5.5" fill="#0000ff"/>
<ellipse cx="1253.5" cy="703.5" rx="7.0" ry="5.5" fill="#0000ff"/>
<ellipse cx="1272.9" cy="553.9" rx="7.0" ry="5.0" fill="#0000ff"/>
<ellipse cx="1294.4" cy="749.3" rx="6.5" ry="7.0" fill="#0000ff"/>
<ellipse cx="1316.4" cy="842.4" rx="5.5" ry="5.0" fill="#0000ff"/>
<ellipse cx="1337.3" cy="870.7" rx="6.5" ry="6.5" fill="#0000ff"/>
<ellipse cx="1359.2" cy="889.1" rx="5.5" ry="7.0" fill="#0000ff"/>
<ellipse cx="1378.2" cy="900.7" rx="5.0" ry="5.0" fill="#0000ff"/>
<ellipse cx="1399.7" cy="910.0" rx="5.5" ry="6.5" fill="#0000ff"/>
<ellipse cx="1421.1" cy="912.0" rx="5.0" ry="7.0" fill="#0000ff"/>
<ellipse cx="1443.0" cy="912.0" rx="5.0" ry="5.5" fill="#0000ff"/>
<ellipse cx="1462.9" cy="909.4" rx="5.5" ry="7.0" fill="#0000ff"/>
<ellipse cx="1483.9" cy="907.4" rx="5.0" ry="5.0" fill="#0000ff"/>
<ellipse cx="1505.8" cy="902.4" rx="5.0" ry="5.5" fill="#0000ff"/>
<ellipse cx="1524.8" cy="897.4" rx="7.0" ry="7.0" fill="#0000ff"/>
<ellipse cx="1546.7" cy="895.4" rx="5.5" ry="5.0" fill="#0000ff"/>
<ellipse cx="1565.6" cy="888.4" rx="5.0" ry="5.5" fill="#0000ff"/>
<ellipse cx="1587.6" cy="881.4" rx="5.0" ry="5.5" fill="#0000ff"/>
<ellipse cx="1609.5" cy="872.5" rx="4.5" ry="5.0" fill="#0000ff"/>
<ellipse cx="1628.5" cy="863.5" rx="4.5" ry="5.0" fill="#0000ff"/>
<ellipse cx="1647.4" cy="851.5" rx="6.5" ry="5.0" fill="#0000ff"/>
<ellipse cx="1669.4" cy="837.6" rx="5.0" ry="5.5" fill="#0000ff"/>
<ellipse cx="1690.3" cy="821.6" rx="5.5" ry="6.5" fill="#0000ff"/>
<ellipse cx="1712.2" cy="805.6" rx="5.5" ry="5.0" fill="#0000ff"/>
<ellipse cx="1731.2" cy="790.7" rx="4.5" ry="4.5" fill="#0000ff"/>
<ellipse cx="1751.1" cy="773.7" rx="5.5" ry="5.0" fill="#0000ff"/>
<ellipse cx="1772.1" cy="759.8" rx="6.5" ry="6.5" fill="#0000ff"/>
<ellipse cx="1791.0" cy="741.8" rx="4.5" ry="4.5" fill="#0000ff"/>
<path d="M1107.3 1138.9 L1112.8 1149.1 L1101.8 1149.1 Z" fill="#808000"/>
<path d="M1113.3 1133.6 L1118.8 1143.8 L1107.8 1143.8 Z" fill="#808000"/>
<path d="M1121.9 1128.0 L1126.4 1136.4 L1117.4 1136.4 Z" fill="#808000"/>
<path d="M1135.2 1116.8 L1140.2 1126.1 L1130.2 1126.1 Z" fill="#808000"/>
<path d="M1148.5 1100.3 L1154.0 1110.5 L1143.0 1110.5 Z" fill="#808000"/>
<path d="M1156.5 1092.6 L1160.0 1099.0 L1153.0 1099.0 Z" fill="#808000"/>
<path d="M1163.8 1082.2 L1168.3 1090.5 L1159.3 1090.5 Z" fill="#808000"/>
<path d="M1169.8 1073.0 L1174.8 1082.2 L1164.8 1082.2 Z" fill="#808000"/>
<path d="M1178.4 1056.5 L1183.9 1066.6 L1172.9 1066.6 Z" fill="#808000"/>
<path d="M1187.1 1041.4 L1190.6 1047.8 L1183.6 1047.8 Z" fill="#808000"/>
<path d="M1196.4 1024.3 L1200.9 1032.6 L1191.9 1032.6 Z" fill="#808000"/>
<path d="M1204.7 1001.3 L1210.2 1011.5 L1199.2 1011.5 Z" fill="#808000"/>
<path d="M1212.7 975.4 L1218.2 985.6 L1207.2 985.6 Z" fill="#808000"/>
<path d="M1222.6 940.6 L1227.1 948.9 L1218.1 948.9 Z" fill="#808000"/>
<path d="M1232.6 895.7 L1237.1 904.0 L1228.1 904.0 Z" fill="#808000"/>
<path d="M1243.2 829.3 L1247.7 837.6 L1238.7 837.6 Z" fill="#808000"/>
<path d="M1253.5 739.5 L1257.0 746.0 L1250.0 746.0 Z" fill="#808000"/>
<path d="M1264.5 606.7 L1270.0 616.8 L1259.0 616.8 Z" fill="#808000"/>
<path d="M1275.5 556.2 L1281.0 566.4 L1270.0 566.4 Z" fill="#808000"/>
<path d="M1298.4 741.8 L1303.4 751.1 L1293.4 751.1 Z" fill="#808000"/>
<path d="M1310.4 793.7 L1315.4 802.9 L1305.4 802.9 Z" fill="#808000"/>
<path d="M1323.3 823.4 L1326.8 829.9 L1319.8 829.9 Z" fill="#808000"/>
<path d="M1336.3 836.8 L1341.8 846.9 L1330.8 846.9 Z" fill="#808000"/>
<path d="M1350.3 849.8 L1354.8 858.2 L1345.8 858.2 Z" fill="#808000"/>
<path d="M1364.2 861.7 L1369.7 871.9 L1358.7 871.9 Z" fill="#808000"/>
<path d="M1378.2 867.8 L1382.7 876.1 L1373.7 876.1 Z" fill="#808000"/>
<path d="M1393.2 874.2 L1398.2 883.5 L1388.2 883.5 Z" fill="#808000"/>
<path d="M1409.1 878.7 L1414.6 888.8 L1403.6 888.8 Z" fill="#808000"/>
<path d="M1425.1 882.6 L1430.6 892.8 L1419.6 892.8 Z" fill="#808000"/>
<path d="M1440.0 883.4 L1445.5 893.5 L1434.5 893.5 Z" fill="#808000"/>
<path d="M1457.9 885.6 L1461.4 892.0 L1454.4 892.0 Z" fill="#808000"/>
<path d="M1475.9 883.4 L1481.4 893.5 L1470.4 893.5 Z" fill="#808000"/>
<path d="M1493.8 883.5 L1498.3 891.8 L1489.3 891.8 Z" fill="#808000"/>
<path d="M1514.8 881.9 L1519.8 891.2 L1509.8 891.2 Z" fill="#808000"/>
<path d="M1531.7 878.6 L1535.2 885.1 L1528.2 885.1 Z" fill="#808000"/>
<path d="M1551.7 873.4 L1557.2 883.6 L1546.2 883.6 Z" fill="#808000"/>
<path d="M1570.6 867.4 L1576.1 877.6 L1565.1 877.6 Z" fill="#808000"/>
<path d="M1592.6 862.6 L1596.1 869.1 L1589.1 869.1 Z" fill="#808000"/>
<path d="M1613.5 852.7 L1617.0 859.1 L1610.0 859.1 Z" fill="#808000"/>
<path d="M1637.4 844.0 L1642.4 853.3 L1632.4 853.3 Z" fill="#808000"/>
<path d="M1661.4 830.6 L1665.9 838.9 L1656.9 838.9 Z" fill="#808000"/>
<path d="M1685.3 812.7 L1689.8 821.0 L1680.8 821.0 Z" fill="#808000"/>
<path d="M1709.2 798.7 L1713.7 807.0 L1704.7 807.0 Z" fill="#808000"/>
<path d="M1737.2 778.2 L1742.2 787.5 L1732.2 787.5 Z" fill="#808000"/>
<path d="M1765.1 756.9 L1768.6 763.4 L1761.6 763.4 Z" fill="#808000"/>
<path d="M1791.0 731.8 L1796.5 742.0 L1785.5 742.0 Z" fill="#808000"/>
<rect x="1099.6" y="1146.9" width="10" height="12" fill="#ff8000"/>
<rect x="1116.1" y="1132.1" width="9" height="11" fill="#ff8000"/>
<rect x="1137.7" y="1114.3" width="11" height="12" fill="#ff8000"/>
<rect x="1157.8" y="1091.4" width="12" height="10" fill="#ff8000"/>
<rect x="1181.4" y="1059.2" width="10" height="12" fill="#ff8000"/>
<rect x="1202.5" y="1018.4" width="9" height="11" fill="#ff8000"/>
<rect x="1224.1" y="958.0" width="9" height="11" fill="#ff8000"/>
<rect x="1245.6" y="845.8" width="11" height="12" fill="#ff8000"/>
<rect x="1266.5" y="684.0" width="12" height="9" fill="#ff8000"/>
<rect x="1311.9" y="769.8" width="9" height="9" fill="#ff8000"/>
<rect x="1329.3" y="794.2" width="12" height="12" fill="#ff8000"/>
<rect x="1348.8" y="813.8" width="11" height="11" fill="#ff8000"/>
<rect x="1372.1" y="828.5" width="9" height="10" fill="#ff8000"/>
<rect x="1392.2" y="836.8" width="11" height="12" fill="#ff8000"/>
<rect x="1414.1" y="845.8" width="10" height="12" fill="#ff8000"/>
<rect x="1434.0" y="851.5" width="12" height="10" fill="#ff8000"/>
<rect x="1456.9" y="851.5" width="10" height="10" fill="#ff8000"/>
<rect x="1477.4" y="856.5" width="9" height="10" fill="#ff8000"/>
<rect x="1494.8" y="856.5" width="12" height="10" fill="#ff8000"/>
<rect x="1517.8" y="856.0" width="10" height="11" fill="#ff8000"/>
<rect x="1537.7" y="855.5" width="12" height="12" fill="#ff8000"/>
<rect x="1560.1" y="851.5" width="11" height="10" fill="#ff8000"/>
<rect x="1579.6" y="851.0" width="12" height="11" fill="#ff8000"/>
<rect x="1599.5" y="841.0" width="10" height="11" fill="#ff8000"/>
<rect x="1620.5" y="837.0" width="12" height="11" fill="#ff8000"/>
<rect x="1641.4" y="827.6" width="12" height="10" fill="#ff8000"/>
<rect x="1663.4" y="819.1" width="12" height="9" fill="#ff8000"/>
<rect x="1683.8" y="804.1" width="11" height="11" fill="#ff8000"/>
<rect x="1707.2" y="790.2" width="10" height="11" fill="#ff8000"/>
<rect x="1723.7" y="778.7" width="11" height="12" fill="#ff8000"/>
<rect x="1745.1" y="761.8" width="12" height="12" fill="#ff8000"/>
<rect x="1767.6" y="748.3" width="9" height="11" fill="#ff8000"/>
<rect x="1786.0" y="734.3" width="10" height="11" fill="#ff8000"/>
<rect x="1096.6" y="1148.4" width="12" height="9" fill="#fff" stroke="#ff0080" stroke-width="1.2"/>
<rect x="1107.4" y="1139.9" width="9" height="14" fill="#fff" stroke="#ff0080" stroke-width="1.2"/>
<rect x="1115.1" y="1134.6" width="11" height="10" fill="#fff" stroke="#ff0080" stroke-width="1.2"/>
<rect x="1122.1" y="1128.8" width="13" height="11" fill="#fff" stroke="#ff0080" stroke-width="1.2"/>
<rect x="1132.0" y="1123.8" width="13" height="9" fill="#fff" stroke="#ff0080" stroke-width="1.2"/>
<rect x="1146.0" y="1110.0" width="9" height="10" fill="#fff" stroke="#ff0080" stroke-width="1.2"/>
<rect x="1154.6" y="1104.9" width="9" height="11" fill="#fff" stroke="#ff0080" stroke-width="1.2"/>
<rect x="1159.0" y="1090.1" width="11" height="14" fill="#fff" stroke="#ff0080" stroke-width="1.2"/>
<rect x="1168.6" y="1084.8" width="9" height="14" fill="#fff" stroke="#ff0080" stroke-width="1.2"/>
<rect x="1175.4" y="1077.4" width="10" height="10" fill="#fff" stroke="#ff0080" stroke-width="1.2"/>
<rect x="1192.7" y="1048.5" width="10" height="12" fill="#fff" stroke="#ff0080" stroke-width="1.2"/>
<rect x="1200.2" y="1032.2" width="11" height="10" fill="#fff" stroke="#ff0080" stroke-width="1.2"/>
<rect x="1210.0" y="1013.3" width="10" height="12" fill="#fff" stroke="#ff0080" stroke-width="1.2"/>
<rect x="1215.1" y="995.0" width="13" height="10" fill="#fff" stroke="#ff0080" stroke-width="1.2"/>
<rect x="1227.1" y="960.5" width="13" height="14" fill="#fff" stroke="#ff0080" stroke-width="1.2"/>
<rect x="1239.1" y="923.6" width="9" height="14" fill="#fff" stroke="#ff0080" stroke-width="1.2"/>
<rect x="1245.6" y="874.7" width="11" height="10" fill="#fff" stroke="#ff0080" stroke-width="1.2"/>
<rect x="1256.5" y="804.9" width="12" height="10" fill="#fff" stroke="#ff0080" stroke-width="1.2"/>
<rect x="1266.4" y="702.9" width="13" height="9" fill="#fff" stroke="#ff0080" stroke-width="1.2"/>
<rect x="1277.9" y="642.5" width="12" height="9" fill="#fff" stroke="#ff0080" stroke-width="1.2"/>
<rect x="1287.9" y="693.0" width="13" height="9" fill="#fff" stroke="#ff0080" stroke-width="1.2"/>
<rect x="1301.9" y="738.3" width="11" height="12" fill="#fff" stroke="#ff0080" stroke-width="1.2"/>
<rect x="1313.4" y="760.3" width="10" height="10" fill="#fff" stroke="#ff0080" stroke-width="1.2"/>
<rect x="1325.3" y="771.3" width="12" height="12" fill="#fff" stroke="#ff0080" stroke-width="1.2"/>
<rect x="1337.4" y="786.7" width="13" height="9" fill="#fff" stroke="#ff0080" stroke-width="1.2"/>
<rect x="1348.3" y="794.2" width="12" height="12" fill="#fff" stroke="#ff0080" stroke-width="1.2"/>
<rect x="1364.2" y="803.2" width="10" height="12" fill="#fff" stroke="#ff0080" stroke-width="1.2"/>
<rect x="1380.2" y="813.3" width="10" height="12" fill="#fff" stroke="#ff0080" stroke-width="1.2"/>
<rect x="1392.7" y="819.3" width="10" height="14" fill="#fff" stroke="#ff0080" stroke-width="1.2"/>
<rect x="1408.2" y="829.0" width="13" height="9" fill="#fff" stroke="#ff0080" stroke-width="1.2"/>
<rect x="1423.5" y="832.3" width="10" height="11" fill="#fff" stroke="#ff0080" stroke-width="1.2"/>
<rect x="1439.0" y="835.5" width="12" height="14" fill="#fff" stroke="#ff0080" stroke-width="1.2"/>
<rect x="1455.9" y="841.0" width="12" height="11" fill="#fff" stroke="#ff0080" stroke-width="1.2"/>
<rect x="1472.9" y="841.0" width="12" height="11" fill="#fff" stroke="#ff0080" stroke-width="1.2"/>
<rect x="1490.8" y="845.5" width="12" height="12" fill="#fff" stroke="#ff0080" stroke-width="1.2"/>
<rect x="1509.3" y="846.5" width="9" height="10" fill="#fff" stroke="#ff0080" stroke-width="1.2"/>
<rect x="1525.2" y="847.0" width="11" height="9" fill="#fff" stroke="#ff0080" stroke-width="1.2"/>
<rect x="1544.2" y="844.5" width="9" height="14" fill="#fff" stroke="#ff0080" stroke-width="1.2"/>
<rect x="1565.1" y="842.0" width="9" height="11" fill="#fff" stroke="#ff0080" stroke-width="1.2"/>
<rect x="1587.1" y="838.5" width="9" height="14" fill="#fff" stroke="#ff0080" stroke-width="1.2"/>
<rect x="1607.5" y="831.6" width="12" height="12" fill="#fff" stroke="#ff0080" stroke-width="1.2"/>
<rect x="1629.5" y="828.1" width="10" height="9" fill="#fff" stroke="#ff0080" stroke-width="1.2"/>
<rect x="1651.4" y="815.6" width="10" height="12" fill="#fff" stroke="#ff0080" stroke-width="1.2"/>
<rect x="1673.3" y="804.1" width="10" height="11" fill="#fff" stroke="#ff0080" stroke-width="1.2"/>
<rect x="1698.8" y="790.2" width="9" height="11" fill="#fff" stroke="#ff0080" stroke-width="1.2"/>
<rect x="1723.7" y="771.7" width="11" height="12" fill="#fff" stroke="#ff0080" stroke-width="1.2"/>
<rect x="1746.6" y="751.8" width="13" height="14" fill="#fff" stroke="#ff0080" stroke-width="1.2"/>
<rect x="1786.0" y="722.4" width="10" height="11" fill="#fff" stroke="#ff0080" stroke-width="1.2"/>
<ellipse cx="1104.6" cy="1158.2" rx="6.0" ry="6.9" fill="url(#rp)"/>
<ellipse cx="1113.3" cy="1152.9" rx="5.6" ry="5.6" fill="url(#rp)"/>
<ellipse cx="1121.9" cy="1147.6" rx="5.6" ry="6.4" fill="url(#rp)"/>
<ellipse cx="1131.2" cy="1142.3" rx="6.0" ry="6.9" fill="url(#rl)"/>
<ellipse cx="1140.5" cy="1135.6" rx="5.6" ry="6.4" fill="url(#rs)"/>
<ellipse cx="1149.8" cy="1127.7" rx="6.0" ry="6.0" fill="url(#rp)"/>
<ellipse cx="1158.5" cy="1119.7" rx="5.2" ry="6.0" fill="url(#rp)"/>
<ellipse cx="1164.5" cy="1110.4" rx="5.2" ry="5.2" fill="url(#rs)"/>
<ellipse cx="1176.4" cy="1098.4" rx="6.0" ry="8.1" fill="url(#rl)"/>
<ellipse cx="1184.4" cy="1085.1" rx="4.8" ry="6.5" fill="url(#rp)"/>
<ellipse cx="1193.7" cy="1072.5" rx="4.8" ry="4.8" fill="url(#rs)"/>
<ellipse cx="1201.7" cy="1059.8" rx="5.2" ry="7.0" fill="url(#rl)"/>
<ellipse cx="1206.4" cy="1049.2" rx="4.8" ry="6.5" fill="url(#rl)"/>
<ellipse cx="1211.7" cy="1033.2" rx="5.2" ry="5.2" fill="url(#rs)"/>
<ellipse cx="1217.0" cy="1021.9" rx="4.8" ry="6.5" fill="url(#rs)"/>
<ellipse cx="1224.3" cy="1004.0" rx="4.8" ry="5.0" fill="url(#rs)"/>
<ellipse cx="1231.6" cy="982.4" rx="6.0" ry="6.0" fill="url(#rs)"/>
<ellipse cx="1238.6" cy="958.5" rx="5.6" ry="5.9" fill="url(#rp)"/>
<ellipse cx="1246.6" cy="931.0" rx="5.6" ry="6.4" fill="url(#rs)"/>
<ellipse cx="1253.5" cy="893.7" rx="6.0" ry="6.0" fill="url(#rp)"/>
<ellipse cx="1262.5" cy="846.8" rx="4.8" ry="6.5" fill="url(#rl)"/>
<ellipse cx="1268.5" cy="783.0" rx="4.8" ry="6.5" fill="url(#rl)"/>
<ellipse cx="1276.5" cy="693.5" rx="4.8" ry="4.8" fill="url(#rp)"/>
<ellipse cx="1285.5" cy="616.7" rx="6.0" ry="8.1" fill="url(#rs)"/>
<ellipse cx="1294.4" cy="661.6" rx="4.8" ry="6.5" fill="url(#rl)"/>
<ellipse cx="1303.4" cy="703.1" rx="5.2" ry="7.0" fill="url(#rp)"/>
<ellipse cx="1311.4" cy="737.4" rx="4.8" ry="4.8" fill="url(#rp)"/>
<ellipse cx="1320.4" cy="749.3" rx="5.2" ry="5.5" fill="url(#rs)"/>
<ellipse cx="1329.3" cy="758.3" rx="6.0" ry="6.0" fill="url(#rs)"/>
<ellipse cx="1340.3" cy="768.3" rx="4.8" ry="4.8" fill="url(#rs)"/>
<ellipse cx="1348.3" cy="777.3" rx="4.8" ry="5.0" fill="url(#rp)"/>
<ellipse cx="1358.2" cy="782.2" rx="4.8" ry="5.5" fill="url(#rl)"/>
<ellipse cx="1367.2" cy="791.2" rx="5.2" ry="7.0" fill="url(#rs)"/>
<ellipse cx="1380.2" cy="799.2" rx="4.8" ry="5.5" fill="url(#rs)"/>
<ellipse cx="1389.2" cy="804.2" rx="4.8" ry="5.5" fill="url(#rl)"/>
<ellipse cx="1402.1" cy="809.2" rx="6.0" ry="8.1" fill="url(#rp)"/>
<ellipse cx="1410.1" cy="814.9" rx="4.8" ry="4.8" fill="url(#rs)"/>
<ellipse cx="1423.1" cy="820.9" rx="4.8" ry="4.8" fill="url(#rl)"/>
<ellipse cx="1435.0" cy="825.9" rx="4.8" ry="6.5" fill="url(#rp)"/>
<ellipse cx="1447.0" cy="829.9" rx="5.6" ry="5.9" fill="url(#rp)"/>
<ellipse cx="1459.9" cy="833.6" rx="4.8" ry="5.5" fill="url(#rp)"/>
<ellipse cx="1471.9" cy="837.6" rx="6.0" ry="8.1" fill="url(#rs)"/>
<ellipse cx="1483.9" cy="838.6" rx="5.2" ry="5.2" fill="url(#rp)"/>
<ellipse cx="1497.8" cy="841.5" rx="5.2" ry="7.0" fill="url(#rp)"/>
<ellipse cx="1511.8" cy="843.5" rx="6.0" ry="8.1" fill="url(#rp)"/>
<ellipse cx="1525.8" cy="845.5" rx="5.6" ry="6.4" fill="url(#rp)"/>
<ellipse cx="1539.7" cy="845.5" rx="4.8" ry="5.5" fill="url(#rl)"/>
<ellipse cx="1553.7" cy="842.5" rx="4.8" ry="5.0" fill="url(#rl)"/>
<ellipse cx="1569.6" cy="842.5" rx="5.6" ry="7.6" fill="url(#rs)"/>
<ellipse cx="1585.6" cy="841.5" rx="6.0" ry="8.1" fill="url(#rp)"/>
<ellipse cx="1599.6" cy="837.6" rx="5.2" ry="7.0" fill="url(#rp)"/>
<ellipse cx="1617.5" cy="832.6" rx="4.8" ry="5.5" fill="url(#rp)"/>
<ellipse cx="1632.5" cy="825.6" rx="5.6" ry="7.6" fill="url(#rs)"/>
<ellipse cx="1649.4" cy="818.6" rx="4.8" ry="5.5" fill="url(#rs)"/>
<ellipse cx="1667.4" cy="809.6" rx="5.2" ry="6.0" fill="url(#rl)"/>
<ellipse cx="1684.3" cy="800.7" rx="6.0" ry="6.9" fill="url(#rl)"/>
<ellipse cx="1703.3" cy="790.7" rx="4.8" ry="6.5" fill="url(#rp)"/>
<ellipse cx="1721.2" cy="779.7" rx="5.2" ry="5.5" fill="url(#rp)"/>
<ellipse cx="1739.2" cy="767.8" rx="4.8" ry="6.5" fill="url(#rp)"/>
<ellipse cx="1759.1" cy="750.8" rx="5.2" ry="6.0" fill="url(#rl)"/>
<ellipse cx="1779.1" cy="736.8" rx="4.8" ry="6.5" fill="url(#rp)"/>
<ellipse cx="1791.0" cy="725.9" rx="4.8" ry="5.5" fill="url(#rs)"/>
</g>
<line x1="1618.2" y1="856.8" x2="1700.1" y2="856.8" stroke="#ff0000" stroke-width="1.3"/>
<text x="1707.25 1730.00 1738.26" y="871.40" font-size="39.00" fill="#000">0 T</text>
<line x1="1618.2" y1="903.3" x2="1700.1" y2="903.3" stroke="#ff0080" stroke-width="1.3"/>
<text x="1707.47 1730.00 1738.26" y="917.30" font-size="39.00" fill="#000">2 T</text>
<line x1="1618.2" y1="954.6" x2="1700.1" y2="954.6" stroke="#ff8000" stroke-width="1.3"/>
<text x="1707.08 1730.00 1738.26" y="968.50" font-size="39.00" fill="#000">3 T</text>
<line x1="1618.2" y1="1001.6" x2="1700.1" y2="1001.6" stroke="#808000" stroke-width="1.3"/>
<text x="1706.88 1730.00 1738.26" y="1015.10" font-size="39.00" fill="#000">5 T</text>
<line x1="1618.2" y1="1052.8" x2="1700.1" y2="1052.8" stroke="#0000ff" stroke-width="1.3"/>
<text x="1706.99 1730.00 1738.26" y="1061.70" font-size="39.00" fill="#000">6 T</text>
<line x1="1618.2" y1="1098.9" x2="1700.1" y2="1098.9" stroke="#8000ff" stroke-width="1.3"/>
<text x="1707.73 1730.12 1737.78 1757.00 1763.86" y="1112.90" font-size="39.00" fill="#000">7.5 T</text>
<line x1="1618.2" y1="1145.5" x2="1700.1" y2="1145.5" stroke="#000099" stroke-width="1.3"/>
<text x="1707.42 1730.00 1738.26" y="1159.50" font-size="39.00" fill="#000">9 T</text>
<ellipse cx="1662.9" cy="858.5" rx="7" ry="8.5" fill="url(#rl)"/>
<rect x="1656.4" y="898.5" width="13" height="17.5" fill="#fff" stroke="#ff0080" stroke-width="1.2"/>
<rect x="1655.9" y="949.2" width="14" height="14.7" fill="#ff8000"/>
<path d="M1659.4 991.3 L1666.5 1005.8 L1651.7 1005.8 Z" fill="#808000"/>
<ellipse cx="1662.9" cy="1052.5" rx="7" ry="9.8" fill="#0000ff"/>
<ellipse cx="1662.9" cy="1101.2" rx="6.5" ry="7" fill="#fff" stroke="#8000ff" stroke-width="1.3"/>
<path d="M1661.9 1136.0 l-3 8 l-6 1 l6 2 l-1 6 l5 -5 l5 6 l-2 -7 l6 -3 l-8 0 z" fill="#000099"/>
</svg>
</body></html>
